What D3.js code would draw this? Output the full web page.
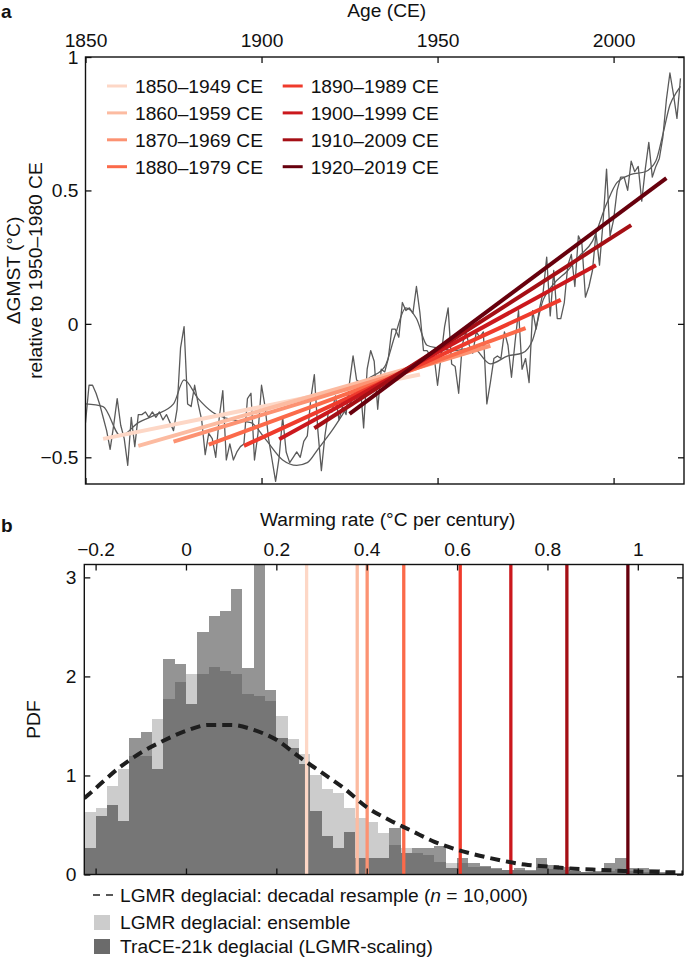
<!DOCTYPE html>
<html>
<head>
<meta charset="utf-8">
<script src="https://cdn.jsdelivr.net/npm/d3@7"></script>
<style>
body { margin: 0; background: #fff; }
svg text { font-family: "Liberation Sans", Arial, Helvetica, sans-serif; fill: #111; }
</style>
</head>
<body>
<div id="chart"></div>
<script>
// Panel a data: annual GMST anomaly 1850-2019 (relative to 1950-1980 CE)
var firstYear = 1850;
var annualTemp = [
  -0.37, -0.23, -0.23, -0.26, -0.30, -0.35, -0.40, -0.47, -0.38, -0.28,
  -0.38, -0.43, -0.53, -0.35, -0.46, -0.34, -0.34, -0.33, -0.35, -0.33,
  -0.35, -0.33, -0.36, -0.34, -0.37, -0.40, -0.32, -0.09, -0.01, -0.30,
  -0.31, -0.23, -0.30, -0.36, -0.49, -0.41, -0.43, -0.50, -0.35, -0.25,
  -0.51, -0.45, -0.51, -0.48, -0.46, -0.45, -0.28, -0.26, -0.51, -0.41,
  -0.23, -0.31, -0.43, -0.51, -0.59, -0.50, -0.35, -0.48, -0.52, -0.50,
  -0.48, -0.50, -0.44, -0.42, -0.28, -0.19, -0.40, -0.55, -0.42, -0.33,
  -0.33, -0.27, -0.36, -0.31, -0.34, -0.22, -0.12, -0.21, -0.22, -0.39,
  -0.17, -0.10, -0.14, -0.32, -0.17, -0.18, -0.13, -0.02, -0.02, -0.05,
   0.08,  0.05,  0.06,  0.04,  0.14,  0.04, -0.10, -0.10, -0.12, -0.12,
  -0.23, -0.12, -0.01,  0.06, -0.15, -0.16, -0.26, -0.08, -0.03, -0.08,
  -0.11, -0.03, -0.05, -0.03, -0.30, -0.22, -0.13, -0.12, -0.13, -0.03,
  -0.08, -0.20, -0.07,  0.05, -0.17, -0.13, -0.22,  0.05, -0.02,  0.06,
   0.12,  0.25,  0.03,  0.20,  0.02,  0.02,  0.08,  0.22,  0.26,  0.14,
   0.33,  0.30,  0.10,  0.14,  0.20,  0.34,  0.22,  0.38,  0.58,  0.33,
   0.39,  0.50,  0.55,  0.55,  0.50,  0.61,  0.57,  0.59,  0.46,  0.58,
   0.68,  0.55,  0.59,  0.62,  0.70,  0.84,  0.94,  0.86,  0.77,  0.92
];

// smoothed curve
var smoothYears = [1850, 1855, 1860, 1865, 1870, 1875, 1878, 1882, 1886, 1892, 1897, 1901, 1906, 1910,
  1913, 1916, 1920, 1925, 1930, 1935, 1938, 1941, 1944, 1947, 1950, 1955, 1960, 1965, 1970, 1974,
  1977, 1980, 1983, 1987, 1990, 1994, 1998, 2001, 2005, 2009, 2012, 2014, 2016, 2018, 2019];
var smoothTemp = [-0.30, -0.31, -0.42, -0.37, -0.34, -0.30, -0.21, -0.28, -0.33, -0.36, -0.37, -0.43, -0.51, -0.53,
  -0.52, -0.47, -0.40, -0.30, -0.21, -0.16, -0.04, 0.06, 0.02, -0.08, -0.09, -0.10, -0.09, -0.15, -0.12, -0.11,
  -0.06, 0.09, 0.15, 0.20, 0.25, 0.31, 0.45, 0.53, 0.56, 0.57, 0.61, 0.71, 0.82, 0.87, 0.89];

// 100-year windows and their linear fits
var windowLabels = ["1850–1949 CE", "1860–1959 CE", "1870–1969 CE", "1880–1979 CE",
  "1890–1989 CE", "1900–1999 CE", "1910–2009 CE", "1920–2019 CE"];
var fitStartYear = [1855, 1865, 1875, 1885, 1895, 1905, 1915, 1925];
var fitEndYear = [1945, 1955, 1965, 1975, 1985, 1995, 2005, 2015];
var fitStartTemp = [-0.431, -0.457, -0.441, -0.452, -0.457, -0.432, -0.391, -0.337];
var fitEndTemp = [-0.190, -0.116, -0.082, -0.016, 0.090, 0.220, 0.370, 0.546];
var windowColors = ["#fdd7c6", "#fcbba1", "#fc9272", "#fb6a4a", "#ef3b2c", "#cb181d", "#a50f15", "#67000d"];

// Panel b data: warming rate of each window (deg C per century)
var windowRates = [0.267, 0.379, 0.401, 0.482, 0.607, 0.719, 0.843, 0.978];

// histograms, bins of 0.025 starting at -0.225
var binStart = -0.225;
var binWidth = 0.025;
var lgmrPdf = [0.63, 0.67, 0.89, 1.07, 1.20, 1.20, 1.57, 1.77, 1.94, 2.02,
  2.02, 2.10, 2.05, 2.02, 1.82, 1.80, 1.75, 1.60, 1.37, 1.22,
  1.00, 0.86, 0.82, 0.67, 0.57, 0.53, 0.42, 0.30, 0.27, 0.22,
  0.20, 0.13, 0.12, 0.12, 0.08, 0.08, 0.06, 0.05, 0.05, 0.04,
  0.08, 0.06, 0.05, 0.04, 0.03, 0.03, 0.04, 0.06, 0.04, 0.03,
  0.03, 0.02, 0.01];
var tracePdf = [0.27, 0.59, 0.70, 0.54, 1.38, 1.44, 1.07, 2.18, 2.13, 1.72,
  2.45, 2.61, 2.66, 2.88, 2.08, 3.60, 1.86, 1.38, 1.28, 1.12,
  0.64, 0.39, 0.27, 0.43, 0.17, 0.17, 0.17, 0.47, 0.22, 0.27,
  0.27, 0.29, 0.07, 0.17, 0.12, 0.09, 0.07, 0.05, 0.07, 0.05,
  0.17, 0.10, 0.08, 0.04, 0.03, 0.04, 0.12, 0.17, 0.07, 0.07,
  0.06, 0.03, 0.02];

// decadal resample density (dashed)
var resampleRate = [-0.225, -0.2, -0.15, -0.1, -0.05, 0, 0.05, 0.1, 0.15, 0.2, 0.25, 0.3, 0.35, 0.4,
  0.45, 0.5, 0.55, 0.6, 0.65, 0.7, 0.75, 0.8, 0.85, 0.9, 0.95, 1.0, 1.05, 1.1];
var resamplePdf = [0.77, 0.87, 1.07, 1.23, 1.35, 1.45, 1.51, 1.51, 1.46, 1.36, 1.19, 1.03, 0.87, 0.68,
  0.55, 0.44, 0.33, 0.25, 0.19, 0.14, 0.10, 0.08, 0.06, 0.05, 0.04, 0.03, 0.025, 0.02];

// tick labels
var yearTicks = [1850, 1900, 1950, 2000];
var tempTicks = [-0.5, 0, 0.5, 1];
var rateTicks = [-0.2, 0, 0.2, 0.4, 0.6, 0.8, 1];
var pdfTicks = [0, 1, 2, 3];

var width = 685, height = 959;
var fontSize = 19.2;
var fmt = d3.format("~g");

var svg = d3.select("#chart")
    .append("svg")
    .attr("width", width)
    .attr("height", height);

function styleAxis(g) {
    g.attr("font-size", fontSize)
        .attr("font-family", "'Liberation Sans', Arial, Helvetica, sans-serif");
    g.select(".domain").remove();
    g.selectAll(".tick line").attr("stroke", "#111").attr("stroke-width", 1.3);
    g.selectAll(".tick text").attr("fill", "#111");
}

// ---------- Panel a ----------
var a = { left: 85.5, right: 684, top: 57, bottom: 484 };

var xA = d3.scaleLinear().domain([1850, 2020]).range([a.left, a.right]);
var yA = d3.scaleLinear().domain([-0.6, 1]).range([a.bottom, a.top]);

svg.append("clipPath").attr("id", "clipA")
    .append("rect")
    .attr("x", a.left).attr("y", a.top)
    .attr("width", a.right - a.left).attr("height", a.bottom - a.top);

var annual = annualTemp.map(function(t, i) { return { year: firstYear + i, temp: t }; });
var smooth = smoothYears.map(function(y, i) { return { year: y, temp: smoothTemp[i] }; });

var tempLine = d3.line()
    .x(function(d) { return xA(d.year); })
    .y(function(d) { return yA(d.temp); });

var plotA = svg.append("g").attr("clip-path", "url(#clipA)");

plotA.append("path")
    .datum(annual)
    .attr("d", tempLine)
    .attr("fill", "none")
    .attr("stroke", "#5a5a5a")
    .attr("stroke-width", 1.3)
    .attr("stroke-linejoin", "round");

plotA.append("path")
    .datum(smooth)
    .attr("d", tempLine.curve(d3.curveMonotoneX))
    .attr("fill", "none")
    .attr("stroke", "#5a5a5a")
    .attr("stroke-width", 1.3);

// fitted trend lines
windowLabels.forEach(function(label, i) {
    plotA.append("line")
        .attr("x1", xA(fitStartYear[i]))
        .attr("y1", yA(fitStartTemp[i]))
        .attr("x2", xA(fitEndYear[i]))
        .attr("y2", yA(fitEndTemp[i]))
        .attr("stroke", windowColors[i])
        .attr("stroke-width", 4);
});

// legend (two columns of four)
var legendA = svg.append("g");
windowLabels.forEach(function(label, i) {
    var col = Math.floor(i / 4), row = i % 4;
    var lx = 107 + col * 175.7;
    var ly = 86 + row * 26.9;
    legendA.append("line")
        .attr("x1", lx).attr("x2", lx + 20)
        .attr("y1", ly).attr("y2", ly)
        .attr("stroke", windowColors[i])
        .attr("stroke-width", 3);
    legendA.append("text")
        .attr("x", lx + 28)
        .attr("y", ly + 6.8)
        .attr("font-size", fontSize)
        .text(label);
});

// axes
svg.append("g")
    .attr("transform", "translate(0," + a.top + ")")
    .call(d3.axisTop(xA).tickValues(yearTicks).tickFormat(d3.format("d")).tickSizeInner(-6).tickSizeOuter(0).tickPadding(10.5))
    .call(styleAxis);

svg.append("g")
    .attr("transform", "translate(0," + a.bottom + ")")
    .call(d3.axisBottom(xA).tickValues(yearTicks).tickFormat("").tickSizeInner(-6).tickSizeOuter(0))
    .call(styleAxis);

svg.append("g")
    .attr("transform", "translate(" + a.left + ",0)")
    .call(d3.axisLeft(yA).tickValues(tempTicks).tickFormat(fmt).tickSizeInner(-6).tickSizeOuter(0).tickPadding(7))
    .call(styleAxis);

svg.append("g")
    .attr("transform", "translate(" + a.right + ",0)")
    .call(d3.axisRight(yA).tickValues(tempTicks).tickFormat("").tickSizeInner(-6).tickSizeOuter(0))
    .call(styleAxis);

svg.append("rect")
    .attr("x", a.left).attr("y", a.top)
    .attr("width", a.right - a.left).attr("height", a.bottom - a.top)
    .attr("fill", "none").attr("stroke", "#111").attr("stroke-width", 1.4);

svg.append("text")
    .attr("x", (a.left + a.right) / 2 + 2)
    .attr("y", 16.5)
    .attr("text-anchor", "middle")
    .attr("font-size", fontSize)
    .text("Age (CE)");

svg.append("text")
    .attr("transform", "translate(20," + (a.top + a.bottom) / 2 + ") rotate(-90)")
    .attr("text-anchor", "middle")
    .attr("font-size", fontSize)
    .text("ΔGMST (°C)");

svg.append("text")
    .attr("transform", "translate(41.5," + (a.top + a.bottom) / 2 + ") rotate(-90)")
    .attr("text-anchor", "middle")
    .attr("font-size", fontSize)
    .text("relative to 1950–1980 CE");

svg.append("text")
    .attr("x", 1).attr("y", 18)
    .attr("font-size", 19).attr("font-weight", "bold")
    .text("a");

// ---------- Panel b ----------
var b = { left: 84.3, right: 683, top: 564.5, bottom: 874.5 };

var xB = d3.scaleLinear().domain([-0.225, 1.1]).range([b.left, b.right]);
var yB = d3.scaleLinear().domain([0, 3.13]).range([b.bottom, b.top]);

svg.append("clipPath").attr("id", "clipB")
    .append("rect")
    .attr("x", b.left).attr("y", b.top)
    .attr("width", b.right - b.left).attr("height", b.bottom - b.top);

var plotB = svg.append("g").attr("clip-path", "url(#clipB)");

var bins = d3.range(lgmrPdf.length).map(function(i) {
    return { x0: binStart + i * binWidth, x1: binStart + (i + 1) * binWidth, lgmr: lgmrPdf[i], trace: tracePdf[i] };
});

plotB.append("g")
    .attr("shape-rendering", "crispEdges")
    .selectAll("rect")
    .data(bins)
    .join("rect")
    .attr("x", function(d) { return xB(d.x0); })
    .attr("width", function(d) { return xB(d.x1) - xB(d.x0); })
    .attr("y", function(d) { return yB(d.lgmr); })
    .attr("height", function(d) { return yB(0) - yB(d.lgmr); })
    .attr("fill", "#cccccc");

plotB.append("g")
    .attr("shape-rendering", "crispEdges")
    .selectAll("rect")
    .data(bins)
    .join("rect")
    .attr("x", function(d) { return xB(d.x0); })
    .attr("width", function(d) { return xB(d.x1) - xB(d.x0); })
    .attr("y", function(d) { return yB(d.trace); })
    .attr("height", function(d) { return yB(0) - yB(d.trace); })
    .attr("fill", "#000")
    .attr("fill-opacity", 0.42);

// warming rates of the windows
plotB.selectAll(".rate")
    .data(windowRates)
    .join("line")
    .attr("class", "rate")
    .attr("x1", function(d) { return xB(d); })
    .attr("x2", function(d) { return xB(d); })
    .attr("y1", b.top)
    .attr("y2", b.bottom)
    .attr("stroke", function(d, i) { return windowColors[i]; })
    .attr("stroke-width", 3.3);

var resample = resampleRate.map(function(r, i) { return { rate: r, pdf: resamplePdf[i] }; });

plotB.append("path")
    .datum(resample)
    .attr("d", d3.line()
        .x(function(d) { return xB(d.rate); })
        .y(function(d) { return yB(d.pdf); })
        .curve(d3.curveMonotoneX))
    .attr("fill", "none")
    .attr("stroke", "#1e1e1e")
    .attr("stroke-width", 4)
    .attr("stroke-dasharray", "10,6");

svg.append("g")
    .attr("transform", "translate(0," + b.top + ")")
    .call(d3.axisTop(xB).tickValues(rateTicks).tickFormat(fmt).tickSizeInner(-6).tickSizeOuter(0).tickPadding(9))
    .call(styleAxis);

svg.append("g")
    .attr("transform", "translate(0," + b.bottom + ")")
    .call(d3.axisBottom(xB).tickValues(rateTicks).tickFormat("").tickSizeInner(-6).tickSizeOuter(0))
    .call(styleAxis);

svg.append("g")
    .attr("transform", "translate(" + b.left + ",0)")
    .call(d3.axisLeft(yB).tickValues(pdfTicks).tickFormat(fmt).tickSizeInner(-6).tickSizeOuter(0).tickPadding(8))
    .call(styleAxis);

svg.append("g")
    .attr("transform", "translate(" + b.right + ",0)")
    .call(d3.axisRight(yB).tickValues(pdfTicks).tickFormat("").tickSizeInner(-6).tickSizeOuter(0))
    .call(styleAxis);

svg.append("rect")
    .attr("x", b.left).attr("y", b.top)
    .attr("width", b.right - b.left).attr("height", b.bottom - b.top)
    .attr("fill", "none").attr("stroke", "#111").attr("stroke-width", 1.4);

svg.append("text")
    .attr("x", (b.left + b.right) / 2 + 4)
    .attr("y", 526)
    .attr("text-anchor", "middle")
    .attr("font-size", fontSize)
    .text("Warming rate (°C per century)");

svg.append("text")
    .attr("transform", "translate(40," + (b.top + b.bottom) / 2 + ") rotate(-90)")
    .attr("text-anchor", "middle")
    .attr("font-size", fontSize)
    .text("PDF");

svg.append("text")
    .attr("x", 1).attr("y", 532)
    .attr("font-size", 19).attr("font-weight", "bold")
    .text("b");

// legend below panel b
var legendB = svg.append("g");

legendB.append("line")
    .attr("x1", 93).attr("x2", 114)
    .attr("y1", 895).attr("y2", 895)
    .attr("stroke", "#222")
    .attr("stroke-width", 1.4)
    .attr("stroke-dasharray", "7,6");

var t1 = legendB.append("text")
    .attr("x", 120).attr("y", 901.5)
    .attr("font-size", fontSize);
t1.append("tspan").text("LGMR deglacial: decadal resample (");
t1.append("tspan").attr("font-style", "italic").text("n");
t1.append("tspan").text(" = 10,000)");

legendB.append("rect")
    .attr("x", 94).attr("y", 915)
    .attr("width", 16).attr("height", 15)
    .attr("fill", "#cccccc");
legendB.append("text")
    .attr("x", 120).attr("y", 928.5)
    .attr("font-size", fontSize)
    .text("LGMR deglacial: ensemble");

legendB.append("rect")
    .attr("x", 94).attr("y", 939)
    .attr("width", 16).attr("height", 15)
    .attr("fill", "#6b6b6b");
legendB.append("text")
    .attr("x", 120).attr("y", 953)
    .attr("font-size", fontSize)
    .text("TraCE-21k deglacial (LGMR-scaling)");
</script>
</body>
</html>
